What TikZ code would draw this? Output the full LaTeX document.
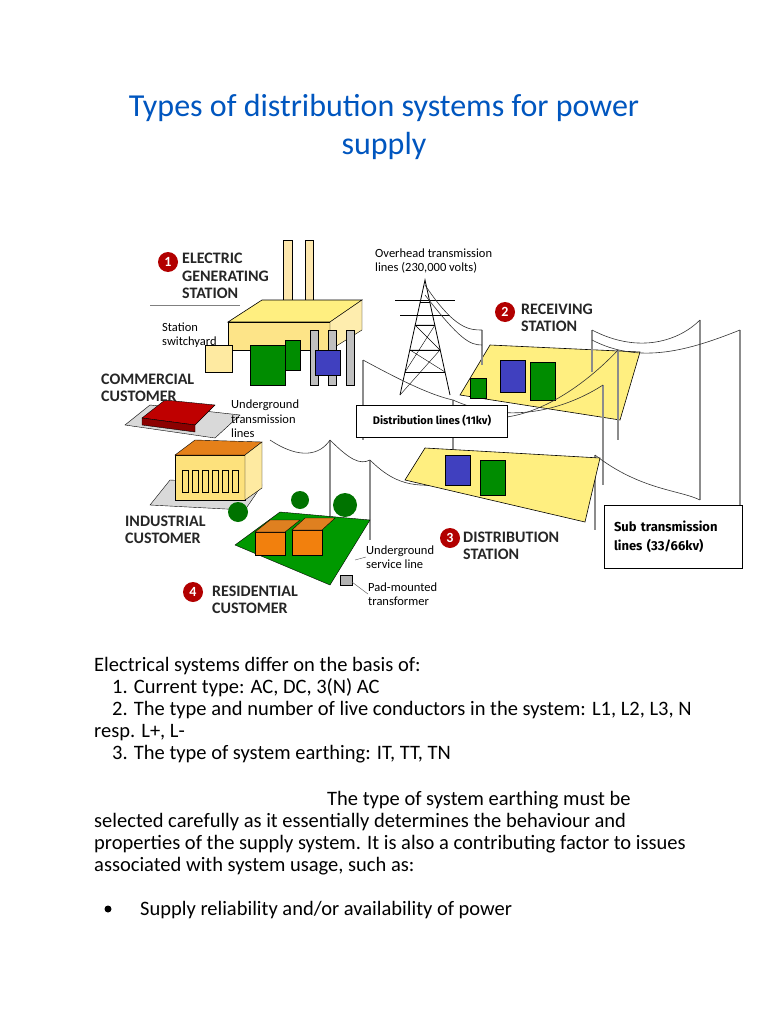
\documentclass[tikz,border=0pt]{standalone}
\usepackage{fontspec}
\setmainfont{Carlito}
\newfontfamily\lab{Fira Sans}
\begin{document}
\begin{tikzpicture}[x=1pt,y=-1pt,
  lbl/.style={anchor=west,font=\fontsize{16}{17.5}\selectfont\bfseries,inner sep=0pt,text=black!85},
  sml/.style={anchor=west,font=\fontsize{12.5}{14.5}\selectfont,inner sep=0pt},
  num/.style={circle,fill=red!70!black,text=white,font=\bfseries\fontsize{14}{14}\selectfont,inner sep=1pt,minimum size=20pt},
  body/.style={anchor=base west,font=\fontsize{20.5}{22}\selectfont,inner sep=0pt},
  pad/.style={fill=orange!25!yellow!50!white,draw=black,line width=0.6pt},
  wire/.style={draw=black!80,line width=0.6pt},
  pole/.style={draw=black!45,line width=2.2pt},
  xf/.style={fill=green!55!black,draw=black,line width=0.5pt},
  xb/.style={fill=blue!50!gray,draw=black,line width=0.5pt},
  bx/.style={draw=black,line width=0.8pt,fill=white,font=\lab\bfseries\fontsize{11}{15}\selectfont,align=left}]
\useasboundingbox (0,0) rectangle (768,1024);
\fill[white] (0,0) rectangle (768,1024);
% title
\node[font=\fontsize{32}{38}\selectfont,text=blue!55!cyan!75!black,align=center] (title) at (384,127) {Types of distribution systems for power\\supply};
% ground line
\draw[black!50] (150,305) -- (240,305);
% generating station
\draw[fill=yellow!45!orange!30] (283,240) rectangle (292,312) (305,240) rectangle (313,312);
\draw[pad] (228,322) -- (262,300) -- (362,300) -- (330,322) -- cycle;
\draw[fill=yellow!60!orange!45] (228,322) rectangle (330,350);
\draw[fill=yellow!60!orange!30] (330,322) -- (362,300) -- (362,330) -- (330,350) -- cycle;
\draw[fill=yellow!60!orange!35] (205,345) rectangle (232,372);
\draw[xf] (250,345) rectangle (285,385);
\draw[xf] (285,340) rectangle (300,370);
\draw[fill=black!25] (310,330) rectangle (318,385) (328,330) rectangle (336,385) (346,330) rectangle (354,385);
\draw[xb] (315,350) rectangle (340,375);
% lattice tower
\draw[line width=0.8pt] (400,395) -- (425,280) -- (450,395);
\draw (405,372) -- (445,372) (410,350) -- (440,350) (415,325) -- (435,325) (420,302) -- (430,302);
\draw (400,395) -- (440,350) -- (410,350) -- (445,372) (405,372) -- (435,325) -- (415,325) -- (440,350);
\draw (395,300) -- (455,300) (400,315) -- (450,315);
% receiving station pad
\draw[pad] (460,395) -- (490,345) -- (640,352) -- (620,420) -- cycle;
\draw[xb] (500,360) rectangle (525,392);
\draw[xf] (530,362) rectangle (555,400);
\draw[xf] (470,378) rectangle (486,398);
\draw[pole] (482,330) -- (482,365) (592,330) -- (592,372);
% poles and lines
\foreach \x/\t/\b in {363/360/440, 453/400/485, 603/385/485, 618/350/440, 700/320/500, 740/330/520, 330/440/520, 370/460/540, 595/455/530}
  \draw[pole] (\x,\t) -- (\x,\b);
\draw[wire] (425,285) .. controls (455,330) and (470,330) .. (482,330);
\draw[wire] (425,295) .. controls (460,340) and (470,345) .. (482,345);
\draw[wire] (592,330) .. controls (640,355) and (680,340) .. (700,320);
\draw[wire] (592,340) .. controls (640,365) and (690,350) .. (740,330);
\draw[wire] (363,360) .. controls (400,380) and (430,395) .. (453,400);
\draw[wire] (453,400) .. controls (520,430) and (580,400) .. (603,385);
\draw[wire] (453,410) .. controls (520,440) and (590,380) .. (618,350);
\draw[wire] (270,440) .. controls (300,460) and (320,455) .. (330,440);
\draw[wire] (330,440) .. controls (350,460) and (360,465) .. (370,460);
\draw[wire] (370,460) .. controls (400,490) and (420,485) .. (453,485);
\draw[wire] (595,455) .. controls (640,490) and (680,490) .. (700,500);
% distribution station pad
\draw[pad] (405,480) -- (425,448) -- (600,458) -- (585,522) -- cycle;
\draw[xb] (445,455) rectangle (470,485);
\draw[xf] (480,460) rectangle (505,495);
% commercial
\draw[fill=black!15] (125,425) -- (150,405) -- (240,415) -- (215,438) -- cycle;
\draw[fill=red!75!black] (142,418) -- (165,400) -- (215,405) -- (195,425) -- cycle;
\draw[fill=red!55!black] (142,418) -- (195,425) -- (195,432) -- (142,425) -- cycle;
% industrial
\draw[fill=black!15] (150,505) -- (170,480) -- (262,485) -- (245,510) -- cycle;
\draw[fill=yellow!60!orange!50] (175,455) rectangle (245,500);
\draw[fill=orange!60!brown] (175,455) -- (195,440) -- (262,442) -- (245,455) -- cycle;
\draw[fill=yellow!60!orange!35] (245,455) -- (262,442) -- (262,488) -- (245,500) -- cycle;
\foreach \x in {182,192,202,212,222,232} \draw (\x,470) rectangle (\x+6,492);
% residential
\draw[fill=green!60!black] (235,545) -- (280,512) -- (370,520) -- (330,585) -- cycle;
\draw[fill=orange!80!brown] (255,532) rectangle (285,555);
\draw[fill=orange!80!brown] (292,530) rectangle (322,555);
\draw[fill=orange!50!brown] (255,532) -- (270,520) -- (300,520) -- (285,532) -- cycle;
\draw[fill=orange!50!brown] (292,530) -- (305,518) -- (335,518) -- (322,530) -- cycle;
\fill[green!45!black] (238,512) circle (10) (345,505) circle (12) (300,500) circle (9);
\draw[fill=black!30] (340,575) rectangle (352,585);
% labels
\node[num] (n1) at (168,262) {1};
\node[lbl,align=left] (l1) at (182,276) {ELECTRIC\\GENERATING\\STATION};
\node[sml,align=left] (ov) at (375,261) {Overhead transmission\\lines (230,000 volts)};
\node[num] (n2) at (505,312) {2};
\node[lbl,align=left] (l2) at (521,318) {RECEIVING\\STATION};
\node[sml,align=left] (sw) at (162,335) {Station\\switchyard};
\node[lbl,align=left] (cc) at (101,388) {COMMERCIAL\\CUSTOMER};
\node[sml,align=left] (ug) at (231,419) {Underground\\transmission\\lines};
\node[bx,minimum width=151pt,minimum height=32pt,inner xsep=14pt] (dl) at (432,421) {Distribution lines (11kv)};
\node[lbl,align=left] (ic) at (125,530) {INDUSTRIAL\\CUSTOMER};
\node[num] (n3) at (450,538) {3};
\node[lbl,align=left] (ds) at (463,546) {DISTRIBUTION\\STATION};
\node[bx,minimum width=138pt,minimum height=63pt,text width=118pt,font=\lab\bfseries\fontsize{13}{19}\selectfont] (st) at (673,537) {Sub transmission\\lines (33/66kv)};
\node[sml,align=left] (us) at (366,557) {Underground\\service line};
\node[sml,align=left] (pm) at (368,594) {Pad-mounted\\transformer};
\node[num] (n4) at (193,592) {4};
\node[lbl,align=left] (rc) at (212,600) {RESIDENTIAL\\CUSTOMER};
\draw[black!70] (us.west) -- (355,560);
\draw[black!70] (pm.west) -- (352,582);
% body text
\node[body] (t1) at (94,671) {Electrical systems differ on the basis of:};
\node[body] (t2) at (112,693) {1. Current type: AC, DC, 3(N) AC};
\node[body] (t3) at (112,715) {2. The type and number of live conductors in the system: L1, L2, L3, N};
\node[body] (t4) at (94,737) {resp. L+, L-};
\node[body] (t5) at (112,759) {3. The type of system earthing: IT, TT, TN};
\node[body] (t6) at (327,805) {The type of system earthing must be};
\node[body] (t7) at (94,827) {selected carefully as it essentially determines the behaviour and};
\node[body] (t8) at (94,849) {properties of the supply system. It is also a contributing factor to issues};
\node[body] (t9) at (94,871) {associated with system usage, such as:};
\fill (108,909) circle (3.5);
\node[body] (t10) at (140,915) {Supply reliability and/or availability of power};
\end{tikzpicture}
\end{document}
